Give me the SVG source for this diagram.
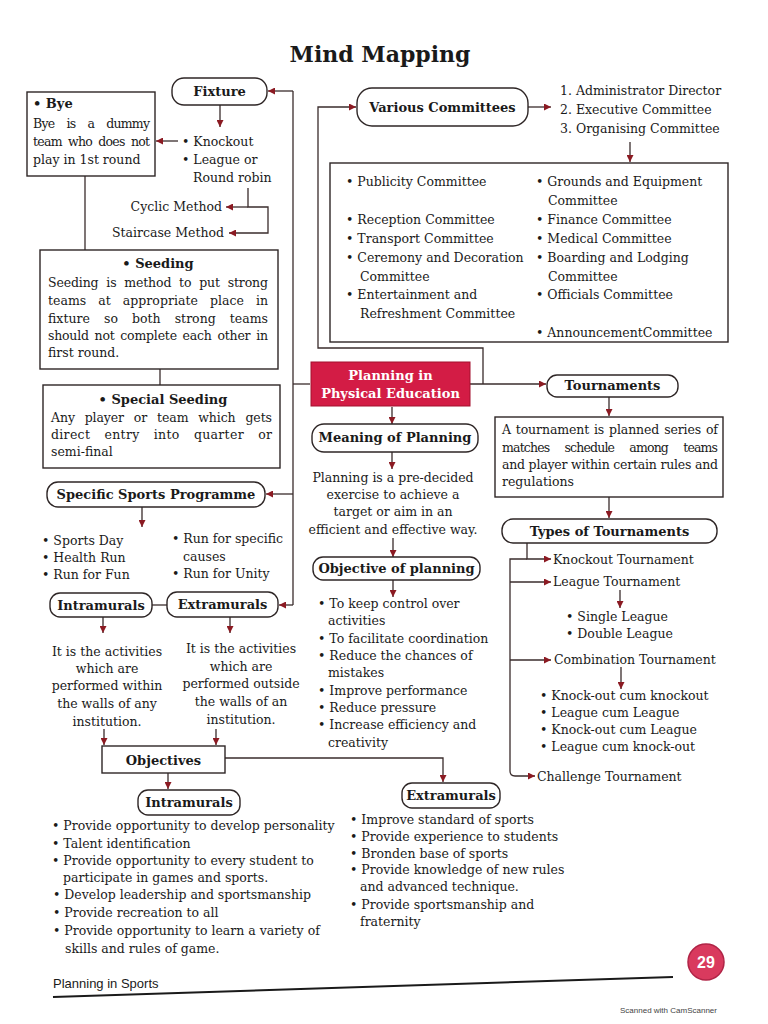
<svg xmlns="http://www.w3.org/2000/svg" width="768" height="1024" viewBox="0 0 768 1024">
<defs>
<marker id="ah" viewBox="0 0 10 10" refX="10" refY="5" markerWidth="8" markerHeight="7" markerUnits="userSpaceOnUse" orient="auto">
<path d="M0,0 L10,5 L0,10 z" fill="#8b1a22"/>
</marker>
<style>
.t{font-family:"DejaVu Serif","Liberation Serif",serif;font-size:12.5px;fill:#1a1a1a}
.b{font-family:"DejaVu Serif","Liberation Serif",serif;font-size:13px;font-weight:bold;fill:#1a1a1a}
.c{text-anchor:middle}
.box{fill:#fff;stroke:#2e2626;stroke-width:1.4}
.conn path{fill:none;stroke:#3a2c2c;stroke-width:1.3}
.ar{marker-end:url(#ah)}
</style>
</defs>
<rect width="768" height="1024" fill="#fff"/>
<text x="380" y="62" class="b c" style="font-size:22px">Mind Mapping</text>

<g class="conn" id="connectors">
<path d="M293,91 V605"/>
<path class="ar" d="M293,91 H268"/>
<path class="ar" d="M178,141 H156"/>
<path class="ar" d="M220,105 V127"/>
<path class="ar" d="M248,188 V207 H268 V233 H229"/>
<path class="ar" d="M248,207 H226"/>
<path d="M85,176 V250"/>
<path d="M160,369 V385"/>
<path d="M293,384 H310"/>
<path class="ar" d="M470,384 H546"/>
<path class="ar" d="M483,384 V348 H318 V107 H356"/>
<path class="ar" d="M528,107 H551"/>
<path class="ar" d="M630,142 V162"/>
<path class="ar" d="M293,494 H266"/>
<path class="ar" d="M142,507 V527"/>
<path class="ar" d="M293,605 H279"/>
<path d="M152,605 H167"/>
<path class="ar" d="M103,617 V633"/>
<path class="ar" d="M230,617 V633"/>
<path class="ar" d="M104,729 V745"/>
<path class="ar" d="M216,729 V745"/>
<path class="ar" d="M168,773 V789"/>
<path class="ar" d="M225,758 H443 V782"/>
<path class="ar" d="M392,407 V424"/>
<path class="ar" d="M392,452 V469"/>
<path class="ar" d="M393,538 V557"/>
<path class="ar" d="M393,580 V597"/>
<path class="ar" d="M609,397 V416"/>
<path class="ar" d="M609,497 V518"/>
<path class="ar" d="M527,543 V559 H551"/>
<path class="ar" d="M527,559 H510 V771 Q510,776 515,776 H535"/>
<path class="ar" d="M510,582 H551"/>
<path class="ar" d="M510,660 H551"/>
<path class="ar" d="M620,590 V608"/>
<path class="ar" d="M621,667 V689"/>
</g>

<g id="fixture">
<rect class="box" x="172" y="78" width="95" height="27" rx="12"/>
<text x="219.5" y="96" class="b c">Fixture</text>
</g>
<g id="fixture-types">
<text x="182" y="146" class="t">• Knockout</text>
<text x="182" y="164" class="t">• League or</text>
<text x="193" y="182" class="t">Round robin</text>
</g>
<g id="methods">
<text x="222" y="211" class="t" text-anchor="end">Cyclic Method</text>
<text x="224" y="237" class="t" text-anchor="end">Staircase Method</text>
</g>
<g id="bye">
<rect class="box" x="27" y="92" width="128" height="84"/>
<text x="33" y="108" class="b">• Bye</text>
<text x="33" y="128" class="t" word-spacing="9" textLength="117" lengthAdjust="spacing">Bye is a dummy</text>
<text x="33" y="146" class="t" word-spacing="3" textLength="117" lengthAdjust="spacing">team who does not</text>
<text x="33" y="164" class="t">play in 1st round</text>
</g>
<g id="seeding">
<rect class="box" x="40" y="250" width="238" height="119"/>
<text x="158" y="268" class="b c">• Seeding</text>
<text x="48" y="287" class="t" word-spacing="4" textLength="220" lengthAdjust="spacing">Seeding is method to put strong</text>
<text x="48" y="305" class="t" word-spacing="8" textLength="220" lengthAdjust="spacing">teams at appropriate place in</text>
<text x="48" y="323" class="t" word-spacing="10" textLength="220" lengthAdjust="spacing">fixture so both strong teams</text>
<text x="48" y="340" class="t" word-spacing="2" textLength="220" lengthAdjust="spacing">should not complete each other in</text>
<text x="48" y="357" class="t">first round.</text>
</g>
<g id="special-seeding">
<rect class="box" x="43" y="385" width="237" height="83"/>
<text x="163" y="404" class="b c">• Special Seeding</text>
<text x="51" y="422" class="t" word-spacing="6" textLength="221" lengthAdjust="spacing">Any player or team which gets</text>
<text x="51" y="439" class="t" word-spacing="10" textLength="221" lengthAdjust="spacing">direct entry into quarter or</text>
<text x="51" y="456" class="t">semi-final</text>
</g>
<g id="various-committees">
<rect class="box" x="357" y="88" width="171" height="38" rx="15"/>
<text x="442.5" y="112" class="b c">Various Committees</text>
</g>
<g id="committee-list">
<text x="560" y="95" class="t">1. Administrator Director</text>
<text x="560" y="114" class="t">2. Executive Committee</text>
<text x="560" y="133" class="t">3. Organising Committee</text>
</g>
<g id="committees">
<rect class="box" x="330" y="163" width="398" height="179"/>
<text x="346" y="186" class="t">• Publicity Committee</text>
<text x="346" y="224" class="t">• Reception Committee</text>
<text x="346" y="243" class="t">• Transport Committee</text>
<text x="346" y="262" class="t">• Ceremony and Decoration</text>
<text x="360" y="281" class="t">Committee</text>
<text x="346" y="299" class="t">• Entertainment and</text>
<text x="360" y="318" class="t">Refreshment Committee</text>
<text x="536" y="186" class="t">• Grounds and Equipment</text>
<text x="548" y="205" class="t">Committee</text>
<text x="536" y="224" class="t">• Finance Committee</text>
<text x="536" y="243" class="t">• Medical Committee</text>
<text x="536" y="262" class="t">• Boarding and Lodging</text>
<text x="548" y="281" class="t">Committee</text>
<text x="536" y="299" class="t">• Officials Committee</text>
<text x="536" y="337" class="t">• AnnouncementCommittee</text>
</g>
<g id="planning">
<rect x="311" y="362" width="159" height="44" fill="#d31c45" stroke="#a3102f" stroke-width="1"/>
<text x="390.5" y="380" class="b c" style="fill:#fff">Planning in</text>
<text x="390.5" y="398" class="b c" style="fill:#fff">Physical Education</text>
</g>
<g id="tournaments">
<rect class="box" x="547" y="375" width="131" height="22" rx="10"/>
<text x="612.5" y="390" class="b c">Tournaments</text>
</g>
<g id="tournament-def">
<rect class="box" x="495" y="417" width="228" height="80"/>
<text x="502" y="434" class="t" word-spacing="1" textLength="216" lengthAdjust="spacing">A tournament is planned series of</text>
<text x="502" y="452" class="t" word-spacing="12" textLength="216" lengthAdjust="spacing">matches schedule among teams</text>
<text x="502" y="469" class="t" textLength="216" lengthAdjust="spacing">and player within certain rules and</text>
<text x="502" y="486" class="t">regulations</text>
</g>
<g id="types-of-tournaments">
<rect class="box" x="502" y="519" width="215" height="24" rx="11"/>
<text x="609.5" y="536" class="b c">Types of Tournaments</text>
</g>
<g id="tournament-types">
<text x="553" y="564" class="t">Knockout Tournament</text>
<text x="553" y="586" class="t">League Tournament</text>
<text x="566" y="621" class="t">• Single League</text>
<text x="566" y="638" class="t">• Double League</text>
<text x="554" y="664" class="t">Combination Tournament</text>
<text x="540" y="700" class="t">• Knock-out cum knockout</text>
<text x="540" y="717" class="t">• League cum League</text>
<text x="540" y="734" class="t">• Knock-out cum League</text>
<text x="540" y="751" class="t">• League cum knock-out</text>
<text x="537" y="781" class="t">Challenge Tournament</text>
</g>
<g id="meaning">
<rect class="box" x="312" y="424" width="166" height="28" rx="12"/>
<text x="395" y="442" class="b c">Meaning of Planning</text>
</g>
<g id="meaning-text">
<text x="393" y="482" class="t c">Planning is a pre-decided</text>
<text x="393" y="499" class="t c">exercise to achieve a</text>
<text x="393" y="516" class="t c">target or aim in an</text>
<text x="393" y="534" class="t c">efficient and effective way.</text>
</g>
<g id="objective-of-planning">
<rect class="box" x="313" y="557" width="167" height="23" rx="10"/>
<text x="396.5" y="573" class="b c">Objective of planning</text>
</g>
<g id="objective-list">
<text x="318" y="608" class="t">• To keep control over</text>
<text x="328" y="625" class="t">activities</text>
<text x="318" y="643" class="t">• To facilitate coordination</text>
<text x="318" y="660" class="t">• Reduce the chances of</text>
<text x="328" y="677" class="t">mistakes</text>
<text x="318" y="695" class="t">• Improve performance</text>
<text x="318" y="712" class="t">• Reduce pressure</text>
<text x="318" y="729" class="t">• Increase efficiency and</text>
<text x="328" y="747" class="t">creativity</text>
</g>
<g id="specific-sports">
<rect class="box" x="47" y="482" width="218" height="25" rx="11"/>
<text x="156" y="499" class="b c">Specific Sports Programme</text>
</g>
<g id="sports-list">
<text x="42" y="545" class="t">• Sports Day</text>
<text x="42" y="562" class="t">• Health Run</text>
<text x="42" y="579" class="t">• Run for Fun</text>
<text x="172" y="543" class="t">• Run for specific</text>
<text x="183" y="561" class="t">causes</text>
<text x="172" y="578" class="t">• Run for Unity</text>
</g>
<g id="intramurals">
<rect class="box" x="50" y="593" width="102" height="24" rx="10"/>
<text x="101" y="610" class="b c">Intramurals</text>
</g>
<g id="extramurals">
<rect class="box" x="167" y="592" width="111" height="25" rx="10"/>
<text x="222.5" y="609" class="b c">Extramurals</text>
</g>
<g id="intramurals-def">
<text x="107" y="656" class="t c">It is the activities</text>
<text x="107" y="673" class="t c">which are</text>
<text x="107" y="690" class="t c">performed within</text>
<text x="107" y="708" class="t c">the walls of any</text>
<text x="107" y="726" class="t c">institution.</text>
</g>
<g id="extramurals-def">
<text x="241" y="653" class="t c">It is the activities</text>
<text x="241" y="671" class="t c">which are</text>
<text x="241" y="688" class="t c">performed outside</text>
<text x="241" y="706" class="t c">the walls of an</text>
<text x="241" y="724" class="t c">institution.</text>
</g>
<g id="objectives">
<rect class="box" x="102" y="746" width="123" height="27"/>
<text x="163.5" y="765" class="b c">Objectives</text>
</g>
<g id="obj-intramurals">
<rect class="box" x="138" y="790" width="102" height="25" rx="10"/>
<text x="189" y="807" class="b c">Intramurals</text>
</g>
<g id="intramurals-objectives">
<text x="52" y="830" class="t">• Provide opportunity to develop personality</text>
<text x="52" y="848" class="t">• Talent identification</text>
<text x="52" y="865" class="t">• Provide opportunity to every student to</text>
<text x="63" y="882" class="t">participate in games and sports.</text>
<text x="53" y="899" class="t">• Develop leadership and sportsmanship</text>
<text x="53" y="917" class="t">• Provide recreation to all</text>
<text x="53" y="935" class="t">• Provide opportunity to learn a variety of</text>
<text x="65" y="953" class="t">skills and rules of game.</text>
</g>
<g id="obj-extramurals">
<rect class="box" x="402" y="783" width="98" height="25" rx="10"/>
<text x="451" y="800" class="b c">Extramurals</text>
</g>
<g id="extramurals-objectives">
<text x="350" y="824" class="t">• Improve standard of sports</text>
<text x="350" y="841" class="t">• Provide experience to students</text>
<text x="350" y="858" class="t">• Bronden base of sports</text>
<text x="350" y="874" class="t">• Provide knowledge of new rules</text>
<text x="360" y="891" class="t">and advanced technique.</text>
<text x="350" y="909" class="t">• Provide sportsmanship and</text>
<text x="360" y="926" class="t">fraternity</text>
</g>
<g id="footer">
<path d="M53,997 L673,977" stroke="#1a1a1a" stroke-width="2" fill="none"/>
<text x="53" y="988" style="font-family:'Liberation Sans',Arial,sans-serif;font-size:13px;fill:#1a1a1a">Planning in Sports</text>
<circle cx="706" cy="962" r="18" fill="#d93a5e" stroke="#b02446" stroke-width="1.5"/>
<text x="706" y="968" class="c" style="font-family:'Liberation Sans',Arial,sans-serif;font-size:16px;font-weight:bold;fill:#fff">29</text>
<text x="620" y="1013" style="font-family:'Liberation Sans',Arial,sans-serif;font-size:8px;fill:#444">Scanned with CamScanner</text>
</g>
</svg>
